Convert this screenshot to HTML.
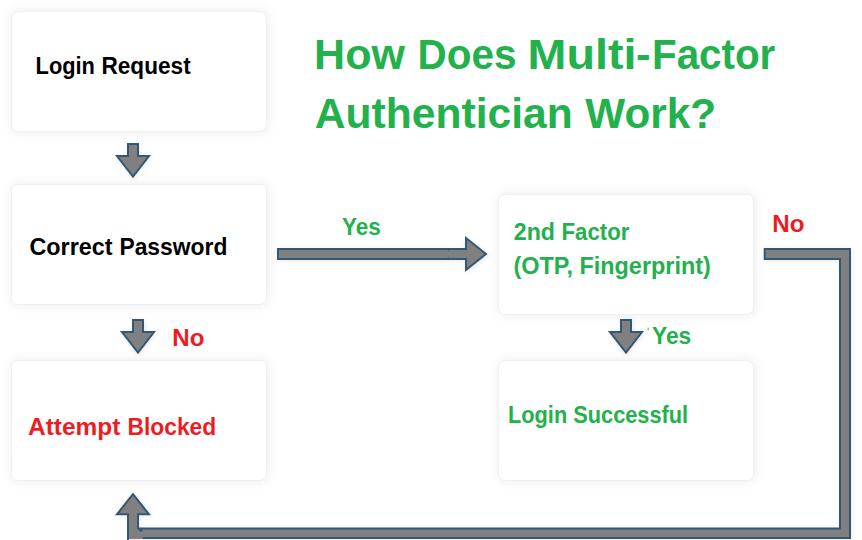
<!DOCTYPE html>
<html><head><meta charset="utf-8">
<style>
html,body{margin:0;padding:0;background:#ffffff;}
body{width:862px;height:540px;position:relative;overflow:hidden;}
.box{position:absolute;box-sizing:border-box;background:#fff;border:1px solid #eef1f1;border-radius:7px;box-shadow:1px 0 11px 2px rgba(0,0,0,0.06);}
svg{position:absolute;left:0;top:0;}
text{font-family:"Liberation Sans",sans-serif;font-weight:bold;}
</style></head><body>
<div class="box" style="left:11px;top:11px;width:256px;height:121px"></div>
<div class="box" style="left:11px;top:184px;width:256px;height:121px"></div>
<div class="box" style="left:11px;top:360px;width:256px;height:121px"></div>
<div class="box" style="left:498px;top:194px;width:256px;height:121px"></div>
<div class="box" style="left:498px;top:360px;width:256px;height:121px"></div>
<svg width="862" height="540" viewBox="0 0 862 540">
<defs><filter id="sh" x="-20%" y="-20%" width="140%" height="140%"><feDropShadow dx="1" dy="1" stdDeviation="2.5" flood-color="#000" flood-opacity="0.09"/></filter></defs>
<g fill="#808080" stroke="#335878" stroke-width="2" stroke-linejoin="miter" stroke-miterlimit="10" filter="url(#sh)">
<path d="M128,144 H138 V156 H149 L133,176.5 L117,156 H128 Z"/>
<path d="M133,320 H143 V332 H154 L138,352.5 L122,332 H133 Z"/>
<path d="M621,320 H631 V332 H642 L626,352.5 L610,332 H621 Z"/>
<path d="M278,249 H466 V238 L486,254 L466,270 V259 H278 Z"/>
<path d="M764.7,249 H850 V539 H128 V514.3 H117 L133,494.2 L149,514.3 H138 V528.5 H840 V259 H764.7 Z" stroke="none"/>
<path d="M143,538 H850 V249 H764.7 V259 H840 V528.5 H138 V514.3 H149 L133,494.2 L117,514.3 H128 V541" fill="none"/>
<rect x="139" y="528.5" width="3.5" height="3" fill="#335878" stroke="none"/>
<rect x="447.6" y="249.6" width="1.2" height="1.2" fill="#335878" stroke="none"/><rect x="447.6" y="257.2" width="1.2" height="1.2" fill="#335878" stroke="none"/>
</g>
<rect x="647.5" y="327.6" width="1.3" height="2.6" fill="#22b14c" opacity="0.8"/>
<text transform="translate(35.59,73.60) scale(0.9307,1)" font-size="23.43" fill="#000000">Login</text>
<text transform="translate(101.44,73.60) scale(0.9664,1)" font-size="23.43" fill="#000000">Request</text>
<text transform="translate(29.47,254.70) scale(1.0035,1)" font-size="23.29" fill="#000000">Correct</text>
<text transform="translate(119.43,254.70) scale(0.9814,1)" font-size="23.29" fill="#000000">Password</text>
<text transform="translate(28.01,434.70) scale(1.0311,1)" font-size="23.71" fill="#ed1c24">Attempt</text>
<text transform="translate(127.53,434.70) scale(0.9621,1)" font-size="23.71" fill="#ed1c24">Blocked</text>
<text transform="translate(513.80,239.90) scale(1.0015,1)" font-size="23.14" fill="#22b14c">2nd</text>
<text transform="translate(561.47,239.90) scale(0.9605,1)" font-size="23.14" fill="#22b14c">Factor</text>
<text transform="translate(513.56,273.60) scale(1.0126,1)" font-size="23.14" fill="#22b14c">(OTP, Fingerprint)</text>
<text transform="translate(507.99,422.60) scale(0.9182,1)" font-size="23.71" fill="#22b14c">Login Successful</text>
<text transform="translate(341.97,234.70) scale(0.9331,1)" font-size="24.14" fill="#22b14c">Yes</text>
<text transform="translate(651.97,343.50) scale(0.9600,1)" font-size="23.71" fill="#22b14c">Yes</text>
<text transform="translate(172.25,345.70) scale(1.0184,1)" font-size="23.71" fill="#ed1c24">No</text>
<text transform="translate(772.25,231.90) scale(1.0123,1)" font-size="23.86" fill="#ed1c24">No</text>
<text transform="translate(314.12,68.80) scale(1.0069,1)" font-size="42.71" fill="#22b14c">How</text>
<text transform="translate(417.57,68.80) scale(0.9468,1)" font-size="42.71" fill="#22b14c">Does</text>
<text transform="translate(527.60,68.80) scale(1.0927,1)" font-size="42.71" fill="#22b14c">Multi</text>
<text transform="translate(636.09,68.80) scale(1.0232,1)" font-size="42.71" fill="#22b14c">-</text>
<text transform="translate(651.98,68.80) scale(0.9452,1)" font-size="42.71" fill="#22b14c">Factor</text>
<text transform="translate(314.75,127.80) scale(0.9844,1)" font-size="43.29" fill="#22b14c">Authentician</text>
<text transform="translate(585.30,127.80) scale(0.9774,1)" font-size="43.29" fill="#22b14c">Work?</text>
</svg>
</body></html>
